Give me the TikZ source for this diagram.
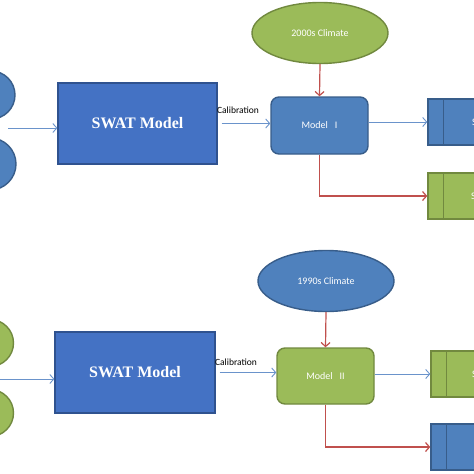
\documentclass[tikz,border=0pt]{standalone}
\usepackage{fontspec}
\setmainfont{Carlito}
\newfontfamily\swatfont{Liberation Serif}
\usetikzlibrary{arrows.meta,shapes.geometric}

\definecolor{swatfill}{HTML}{4472C4}
\definecolor{swatline}{HTML}{2F528F}
\definecolor{bluefill}{HTML}{4F81BD}
\definecolor{blueline}{HTML}{385D8A}
\definecolor{greenfill}{HTML}{9BBB59}
\definecolor{greenline}{HTML}{71893F}
\definecolor{flowblue}{HTML}{6A93CB}
\definecolor{flowred}{HTML}{C0504D}

\tikzset{
  swatbox/.style={draw=swatline, fill=swatfill, line width=1.2pt, inner sep=0pt,
    text=white, font=\swatfont\fontsize{16}{18}\selectfont\bfseries},
  modbox/.style={rounded corners=8pt, line width=1.4pt, inner sep=0pt,
    minimum width=97pt, minimum height=57pt, text=white, font=\fontsize{10}{12}\selectfont},
  climate/.style={ellipse, line width=1.4pt, inner sep=0pt,
    minimum width=136pt, minimum height=61pt, text=white, font=\fontsize{10}{12}\selectfont},
  source/.style={circle, line width=1.4pt, inner sep=0pt},
  outbox/.style={line width=1.4pt, inner sep=0pt, minimum width=100pt, minimum height=46pt},
  blueshape/.style={draw=blueline, fill=bluefill},
  greenshape/.style={draw=greenline, fill=greenfill},
  flow/.style={draw=flowblue, line width=0.9pt, -{Straight Barb[length=4pt,width=9pt]}},
  feed/.style={draw=flowred, line width=1.2pt, -{Straight Barb[length=4pt,width=9pt]}},
  caltext/.style={font=\fontsize{9.5}{11}\selectfont, inner sep=0pt},
  cuttext/.style={anchor=west, text=white, font=\fontsize{10}{12}\selectfont, inner sep=0pt}
}

\begin{document}
\begin{tikzpicture}[x=1pt,y=-1pt]

  % Definitions
  \def\tick{16}   % Offset of the inner line in an output box

  \useasboundingbox (0,0) rectangle (474,474);
  \clip (0,0) rectangle (474,474);

  % Upper chain
  \node [source, blueshape, minimum size=48pt] (src1a) at (-9,95) {};
  \node [source, blueshape, minimum size=52pt] (src1b) at (-10,164) {};
  \coordinate (in1) at (8,128);
  \node [swatbox, minimum width=159pt, minimum height=81pt] (swat1) at (137.5,123.5) {SWAT Model};
  \node [caltext] (cal1) at (238,110) {Calibration};
  \node [climate, greenshape] (clim1) at (320,33) {2000s Climate};
  \node [modbox, blueshape] (mod1) at (319.5,125.5) {Model\ \ \ I};
  \node [outbox, blueshape] (out1a) at (478,122) {};
  \node [outbox, greenshape] (out1b) at (478,196) {};
  \node [cuttext] (lab1a) at (472,122) {S};
  \node [cuttext] (lab1b) at (471,196) {S};

  \draw [blueline, line width=1.4pt] ([xshift=\tick pt]out1a.north west) -- ([xshift=\tick pt]out1a.south west);
  \draw [greenline, line width=1.4pt] ([xshift=\tick pt]out1b.north west) -- ([xshift=\tick pt]out1b.south west);

  \draw [flow] (in1) -- (in1 -| swat1.west);
  \draw [flow, shorten <=4pt] (swat1.east) -- (swat1.east -| mod1.west);
  \draw [feed] (clim1.south) -- (mod1.north);
  \draw [flow] (out1a.west -| mod1.east) -- (out1a.west);
  \draw [feed] (mod1.south) |- (out1b.west);

  % Lower chain
  \node [source, greenshape, minimum size=47pt] (src2a) at (-10,343) {};
  \node [source, greenshape, minimum size=47pt] (src2b) at (-10,413) {};
  \coordinate (in2) at (0,379);
  \node [swatbox, minimum width=160pt, minimum height=81pt] (swat2) at (135,372.5) {SWAT Model};
  \node [caltext] (cal2) at (236,362) {Calibration};
  \node [climate, blueshape] (clim2) at (326,281) {1990s Climate};
  \node [modbox, greenshape, minimum height=56pt] (mod2) at (325.5,376) {Model\ \ \ II};
  \node [outbox, greenshape] (out2a) at (481,374) {};
  \node [outbox, blueshape] (out2b) at (481,447) {};
  \node [cuttext] (lab2a) at (472,374) {S};

  \draw [greenline, line width=1.4pt] ([xshift=\tick pt]out2a.north west) -- ([xshift=\tick pt]out2a.south west);
  \draw [blueline, line width=1.4pt] ([xshift=\tick pt]out2b.north west) -- ([xshift=\tick pt]out2b.south west);

  \draw [flow] (in2) -- (in2 -| swat2.west);
  \draw [flow, shorten <=4pt] (swat2.east) -- (swat2.east -| mod2.west);
  \draw [feed] (clim2.south) -- (mod2.north);
  \draw [flow] (out2a.west -| mod2.east) -- (out2a.west);
  \draw [feed] (mod2.south) |- (out2b.west);

\end{tikzpicture}
\end{document}
